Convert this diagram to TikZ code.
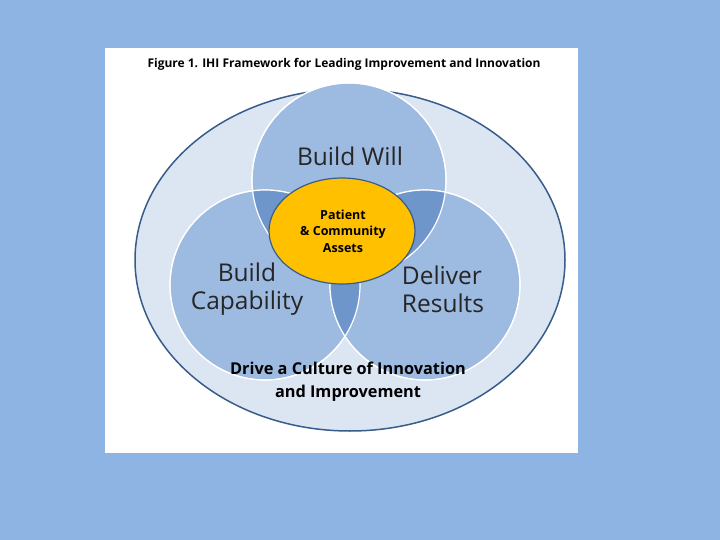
\documentclass[tikz,border=0pt]{standalone}
\usepackage{fontspec}
\setmainfont{Open Sans}
\begin{document}
\begin{tikzpicture}[x=1pt,y=-1pt,
  circ/.style={fill=cfill,draw=white,line width=1.2pt},
  big/.style={font=\fontsize{24.5}{28}\selectfont,align=left,text=black!85}]
\definecolor{bg}{HTML}{8EB4E3}
\definecolor{outer}{HTML}{DCE6F2}
\definecolor{edge}{HTML}{385D8A}
\definecolor{cfill}{HTML}{9DBAE0}
\definecolor{ovl}{HTML}{6E96CB}
\definecolor{gold}{HTML}{FFC000}
\fill[bg] (0,0) rectangle (720,540);
\useasboundingbox (0,0) rectangle (720,540);
\fill[white] (105,48) rectangle (578,453);
\node[font=\bfseries\fontsize{12}{13}\selectfont] (title) at (344,64) {Figure 1. IHI Framework for Leading Improvement and Innovation};
\draw[edge,fill=outer,line width=1.5pt] (350,260) ellipse [x radius=215,y radius=171];
\path[circ] (349,180) circle (97);
\path[circ] (265,285) circle (95);
\path[circ] (425,285) circle (95);
\begin{scope}\clip (349,180) circle (97); \fill[ovl] (265,285) circle (95);\end{scope}
\begin{scope}\clip (349,180) circle (97); \fill[ovl] (425,285) circle (95);\end{scope}
\begin{scope}\clip (265,285) circle (95); \fill[ovl] (425,285) circle (95);\end{scope}
\draw[white,line width=1.2pt] (349,180) circle (97) (265,285) circle (95) (425,285) circle (95);
\draw[edge,fill=gold,line width=1.2pt] (342,231) ellipse [x radius=73,y radius=53];
\node[font=\bfseries\fontsize{12.5}{16.5}\selectfont,align=center] (core) at (343,231) {Patient\\ \& Community\\ Assets};
\node[big] (will) at (350,156) {Build Will};
\node[big] (cap) at (247,289) {\hspace*{1.1em}Build\\Capability};
\node[big] (res) at (443,289) {Deliver\\Results};
\node[font=\bfseries\fontsize{16.3}{23}\selectfont,align=center] (culture) at (348,382) {Drive a Culture of Innovation\\and Improvement};
\end{tikzpicture}
\end{document}
